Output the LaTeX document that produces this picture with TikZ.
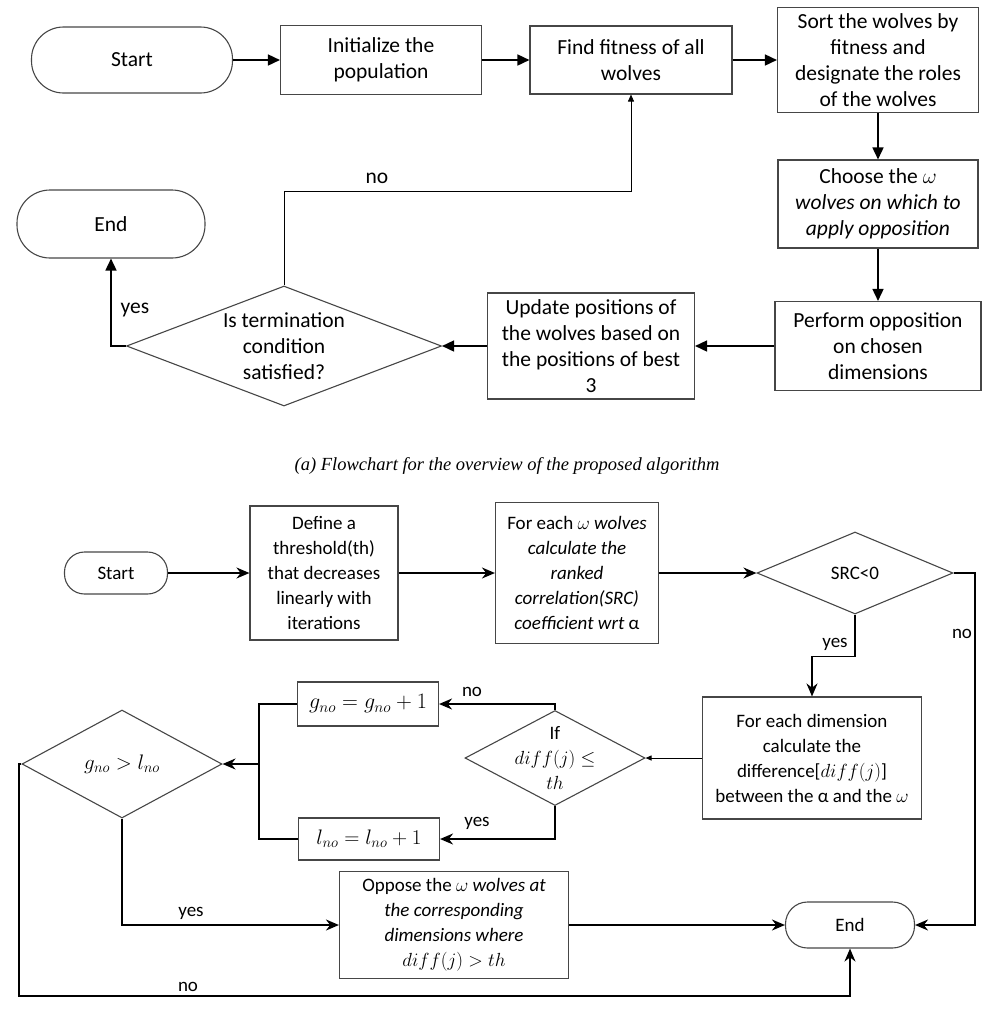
\RequirePackage{fix-cm}
\documentclass[tikz,border=0pt]{standalone}
\usepackage{amsmath}
\usepackage{amssymb}
\usepackage{fontspec}
\setmainfont{Carlito}
\newfontfamily\capfont{Liberation Serif}
\usetikzlibrary{shapes.geometric, arrows.meta}
\definecolor{FCline}{RGB}{70,70,70}
\newcommand{\topfont}{\fontsize{21.5}{26}\selectfont}
\newcommand{\botfont}{\fontsize{19}{25}\selectfont}

\begin{document}
\begin{tikzpicture}[x=1pt, y=-1pt,
    box/.style={draw=FCline, line width=1.1pt, align=center, inner sep=1pt},
    term/.style={box, rounded corners=#1},
    dec/.style={draw=FCline, line width=1.1pt, diamond, inner sep=0pt},
    flowA/.style={line width=1.6pt, -{Triangle[length=12pt,width=11pt]}},
    flowB/.style={line width=1.6pt, -{Stealth[length=13pt,width=11pt]}},
    thinflow/.style={line width=0.9pt, -{Triangle[length=7pt,width=6pt]}}]
  \useasboundingbox (0,0) rectangle (993,1013);

  % overview of the algorithm
  \node[term=32pt, minimum width=201pt, minimum height=66pt, font=\topfont] (start) at (132,60) {Start};
  \node[box, minimum width=201pt, minimum height=69pt, font=\topfont] (init) at (381,60) {Initialize the\\population};
  \node[box, minimum width=202pt, minimum height=68pt, font=\topfont] (find) at (631,60) {Find fitness of all\\wolves};
  \node[box, minimum width=201pt, minimum height=105pt, font=\topfont] (sort) at (878,60) {Sort the wolves by\\fitness and\\designate the roles\\of the wolves};
  \node[box, minimum width=200pt, minimum height=88pt, font=\topfont] (choose) at (878,204) {Choose the $\omega$\\\textit{wolves on which to}\\\textit{apply opposition}};
  \node[box, minimum width=206pt, minimum height=89pt, font=\topfont] (perform) at (878,346) {Perform opposition\\on chosen\\dimensions};
  \node[box, minimum width=207pt, minimum height=106pt, font=\topfont] (update) at (591,346) {Update positions of\\the wolves based on\\the positions of best\\3};
  \node[dec, minimum width=315pt, minimum height=120pt,
        label={[align=center, font=\topfont]center:{Is termination\\condition\\satisfied?}}] (cond) at (284,346) {};
  \node[term=33pt, minimum width=188pt, minimum height=68pt, font=\topfont] (end) at (111,224) {End};

  \draw[flowA] (start) -- (init);
  \draw[flowA] (init) -- (find);
  \draw[flowA] (find) -- (sort);
  \draw[flowA] (sort) -- (choose);
  \draw[flowA] (choose) -- (perform);
  \draw[flowA] (perform) -- (update);
  \draw[flowA] (update) -- (cond);
  \draw[flowA] (cond.west) -| (end.south);
  \coordinate (loopno) at (284,191);
  \draw[thinflow] (cond.north) -- (loopno) -| (find.south);
  \node[font=\topfont] (lblno) at (377,178) {no};
  \node[font=\topfont] (lblyes) at (135,310) {yes};

  \node[font=\capfont\itshape\fontsize{18.5}{22}\selectfont] (caption) at (507,466) {(a) Flowchart for the overview of the proposed algorithm};

  % opposition step
  \node[term=20pt, minimum width=103pt, minimum height=42pt, font=\botfont] (start2) at (116,573) {Start};
  \node[box, minimum width=148pt, minimum height=134pt, font=\botfont] (define) at (324,573) {Define a\\threshold(th)\\that decreases\\linearly with\\iterations};
  \node[box, minimum width=163pt, minimum height=141pt, font=\botfont] (each) at (577,573) {For each $\omega$ \textit{wolves}\\\textit{calculate the}\\\textit{ranked}\\\textit{correlation(SRC)}\\\textit{coefficient wrt} α};
  \node[dec, minimum width=196pt, minimum height=82pt,
        label={[font=\botfont]center:{SRC<0}}] (src) at (855,573) {};
  \node[box, minimum width=219pt, minimum height=122pt, font=\botfont] (dim) at (812,758) {For each dimension\\calculate the\\difference[$diff(j)$]\\between the α and the $\omega$};
  \node[dec, minimum width=180pt, minimum height=95pt,
        label={[align=center, font=\botfont]center:{If\\$diff(j)\leq$\\$th$}}] (ifd) at (555,758) {};
  \node[box, minimum width=141pt, minimum height=44pt, font=\fontsize{22}{26}\selectfont] (gbox) at (368,704) {$g_{no}=g_{no}+1$};
  \node[box, minimum width=141pt, minimum height=42pt, font=\fontsize{21}{25}\selectfont] (lbox) at (369,839) {$l_{no}=l_{no}+1$};
  \node[dec, minimum width=200pt, minimum height=108pt,
        label={[font=\fontsize{21}{25}\selectfont]center:{$g_{no}>l_{no}$}}] (gl) at (122,764) {};
  \node[box, minimum width=229pt, minimum height=107pt, font=\botfont] (oppose) at (454,925) {Oppose the $\omega$ \textit{wolves at}\\\textit{the corresponding}\\\textit{dimensions where}\\$diff(j)>th$};
  \node[term=22pt, minimum width=129pt, minimum height=46pt, font=\botfont] (end2) at (850,925) {End};

  \draw[flowB] (start2) -- (define);
  \draw[flowB] (define) -- (each);
  \draw[flowB] (each) -- (src);
  \coordinate (srcno) at (975,573);
  \draw[flowB] (src.east) -- (srcno) |- (end2.east);
  \draw[flowB] (src.south) -- ++(0,42) -| (dim.north);
  \draw[line width=0.9pt, -{Triangle[length=6pt,width=5pt]}] (dim) -- (ifd);
  \draw[flowB] (ifd.north) |- (gbox.east);
  \draw[flowB] (ifd.south) |- (lbox.east);
  \coordinate (join) at (259,764);
  \draw[line width=1.6pt] (gbox.west) -| (join) |- (lbox.west);
  \draw[flowB] (join) -- (gl.east);
  \coordinate (glno) at (19,996);
  \draw[flowB] (gl.west) -| (glno) -| (end2.south);
  \draw[flowB] (gl.south) |- (oppose.west);
  \draw[flowB] (oppose) -- (end2);

  \node[font=\botfont] (srcnolbl) at (962,634) {no};
  \node[font=\botfont] (srcyeslbl) at (835,644) {yes};
  \node[font=\botfont] (ifnolbl) at (472,692) {no};
  \node[font=\botfont] (ifyeslbl) at (477,823) {yes};
  \node[font=\botfont] (glyeslbl) at (191,913) {yes};
  \node[font=\botfont] (glnolbl) at (188,987) {no};
\end{tikzpicture}
\end{document}
